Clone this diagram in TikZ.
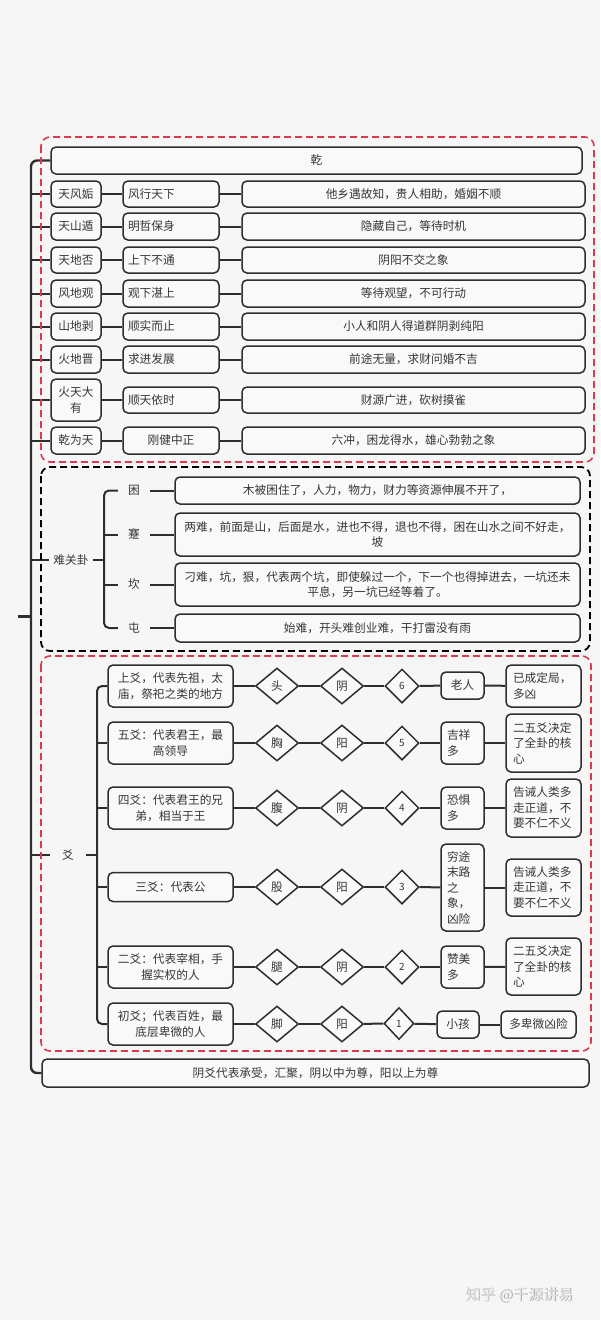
\documentclass[tikz,border=0pt]{standalone}
\usepackage{fontspec}
\setmainfont{Noto Sans CJK SC}
\usetikzlibrary{shapes.geometric}
\definecolor{bgc}{HTML}{F6F6F6}
\definecolor{boxf}{HTML}{F9F9F9}
\definecolor{linec}{HTML}{2E2E2E}
\definecolor{txtc}{HTML}{363636}
\definecolor{redd}{HTML}{D93A50}
\tikzset{
  box/.style={draw=linec, line width=1.5pt, rounded corners=5pt, fill=boxf, inner sep=0pt, align=center},
  lbox/.style 2 args={draw=linec, line width=1.5pt, rounded corners=5pt, fill=boxf, inner ysep=0pt, inner xsep=#1, text width=#2, align=left},
  conn/.style={draw=linec, line width=2pt},
  trunkline/.style={draw=linec, line width=2.4pt},
  dia/.style={diamond, draw=linec, line width=1.5pt, fill=boxf, inner sep=0pt, minimum width=43pt, minimum height=36pt},
  ndia/.style={dia, minimum width=34pt, minimum height=34pt, font=\fontsize{10}{12}\selectfont},
  lab/.style={inner ysep=2pt},
  reddash/.style={draw=redd, line width=1.6pt, dash pattern=on 7pt off 4pt, rounded corners=9pt},
  blackdash/.style={draw=black, line width=1.8pt, dash pattern=on 7pt off 4pt, rounded corners=9pt},
}
\newcommand\QRow[7]{%
  \node[box, minimum width=50pt, minimum height=#3pt] (a#1) at (76,#2) {#5};
  \node[lbox={5pt}{86pt}, minimum height=#4pt] (b#1) at (171,#2) {#6};
  \node[box, minimum width=343pt, minimum height=#4pt] (c#1) at (413.5,#2) {#7};
  \draw[conn] (a#1) -- (b#1);
  \draw[conn] (b#1) -- (c#1);
  \draw[conn] (a#1.west) -- (a#1.west -| trunk);
}
\newcommand\YRow[9]{%
  \node[box, minimum width=125pt, minimum height=#3pt] (L#1) at (170.5,#2) {#4};
  \node[dia] (P#1) at (277,#2) {#5};
  \node[dia] (Q#1) at (342,#2) {#6};
  \node[ndia] (R#1) at (402,#2) {#7};
  \draw[conn] (L#1) -- (P#1);
  \draw[conn] (P#1) -- (Q#1);
  \draw[conn] (Q#1) -- (R#1);
}
\begin{document}
\begin{tikzpicture}[x=1pt, y=-1pt, font=\fontsize{11.7}{15.5}\selectfont, text=txtc]
\fill[bgc] (0,0) rectangle (600,1320);
\useasboundingbox (0,0) rectangle (600,1320);

\coordinate (trunk) at (31,616.5);
\coordinate (root) at (18,616.5);

% top node and bottom note
\node[box, minimum width=531pt, minimum height=27pt] (qian) at (316.5,160.5) {乾};
\node[box, minimum width=547pt, minimum height=28pt] (note) at (315.5,1073) {阴爻代表承受，汇聚，阴以中为尊，阳以上为尊};

\draw[trunkline, rounded corners=6pt] (qian.west) -| (trunk) |- (note.west);
\draw[trunkline] (root) -- (trunk);

% section 1
\QRow{1}{194}{26}{26}{天风姤}{风行天下}{他乡遇故知，贵人相助，婚姻不顺}
\QRow{2}{226.5}{27}{27}{天山遁}{明哲保身}{隐藏自己，等待时机}
\QRow{3}{260}{26}{26}{天地否}{上下不通}{阴阳不交之象}
\QRow{4}{293.5}{27}{27}{风地观}{观下湛上}{等待观望，不可行动}
\QRow{5}{326.5}{27}{27}{山地剥}{顺实而止}{小人和阴人得道群阴剥纯阳}
\QRow{6}{359.5}{27}{27}{火地晋}{求进发展}{前途无量，求财问婚不吉}
\QRow{7}{400}{42}{26}{火天大\\有}{顺天依时}{财源广进，砍树摸雀}
\node[box, minimum width=50pt, minimum height=27pt] (a8) at (76,440.5) {乾为天};
\node[box, minimum width=96pt, minimum height=27pt] (b8) at (171,440.5) {刚健中正};
\node[box, minimum width=343pt, minimum height=27pt] (c8) at (413.5,440.5) {六冲，困龙得水，雄心勃勃之象};
\draw[conn] (a8) -- (b8);
\draw[conn] (b8) -- (c8);
\draw[conn] (a8.west) -- (a8.west -| trunk);

% section 2
\node[lab, inner xsep=4pt] (ng) at (71,560) {难关卦};
\node[box, minimum width=405pt, minimum height=27pt] (kb1) at (377.5,490.5) {木被困住了，人力，物力，财力等资源伸展不开了，};
\node[box, minimum width=405pt, minimum height=43pt] (kb2) at (377.5,534.5) {两难，前面是山，后面是水，进也不得，退也不得，困在山水之间不好走，\\坡};
\node[box, minimum width=405pt, minimum height=43pt] (kb3) at (377.5,584.5) {刁难，坑，狠，代表两个坑，即使躲过一个，下一个也得掉进去，一坑还未\\平息，另一坑已经等着了。};
\node[box, minimum width=405pt, minimum height=28pt] (kb4) at (377.5,628) {始难，开头难创业难，干打雷没有雨};
\node[lab, inner xsep=10pt] (k1) at (134,490.5) {困};
\node[lab, inner xsep=10pt] (k2) at (134,534.5) {蹇};
\node[lab, inner xsep=10pt] (k3) at (134,584.5) {坎};
\node[lab, inner xsep=10pt] (k4) at (134,628) {屯};
\coordinate (nb) at (104,560);
\draw[conn] (ng.west) -- (ng.west -| trunk);
\draw[conn] (ng.east) -- (ng.east -| nb);
\draw[conn, rounded corners=5pt] (k1.west) -| (nb) |- (k4.west);
\draw[conn] (k2.west) -- (k2.west -| nb);
\draw[conn] (k3.west) -- (k3.west -| nb);
\draw[conn] (k1) -- (kb1);
\draw[conn] (k2) -- (kb2);
\draw[conn] (k3) -- (kb3);
\draw[conn] (k4) -- (kb4);

% section 3
\node[lab, inner xsep=12pt] (yao) at (68,855) {爻};
\coordinate (yb) at (97,855);
\YRow{1}{686}{42}{上爻，代表先祖，太\\庙，祭祀之类的地方}{头}{阴}{6}{}{}
\YRow{2}{743}{42}{五爻：代表君王，最\\高领导}{胸}{阳}{5}{}{}
\YRow{3}{808}{42}{四爻：代表君王的兄\\弟，相当于王}{腹}{阴}{4}{}{}
\YRow{4}{887}{29}{三爻：代表公}{股}{阳}{3}{}{}
\YRow{5}{967}{42}{二爻：代表宰相，手\\握实权的人}{腿}{阴}{2}{}{}
\node[box, minimum width=125pt, minimum height=42pt] (L6) at (170.5,1024) {初爻；代表百姓，最\\底层卑微的人};
\node[dia] (P6) at (277,1024) {脚};
\node[dia] (Q6) at (342,1024) {阳};
\node[ndia, minimum width=30pt, minimum height=32pt] (R6) at (399,1023.5) {1};
\draw[conn] (L6) -- (P6);
\draw[conn] (P6) -- (Q6);
\draw[conn] (Q6) -- (R6);

\node[box, minimum width=43pt, minimum height=27pt] (S1) at (462.5,685.5) {老人};
\node[lbox={6pt}{31pt}, minimum height=42pt] (S2) at (462.5,743) {吉祥\\多};
\node[lbox={6pt}{31pt}, minimum height=42pt] (S3) at (462.5,808) {恐惧\\多};
\node[lbox={6pt}{31pt}, minimum height=87pt] (S4) at (462.5,887.5) {穷途\\末路\\之\\象，\\凶险};
\node[lbox={6pt}{31pt}, minimum height=42pt] (S5) at (462.5,967) {赞美\\多};
\node[box, minimum width=42pt, minimum height=27pt] (S6) at (458,1024.5) {小孩};

\node[lbox={7pt}{61pt}, minimum height=42pt] (T1) at (543.5,686) {已成定局，\\多凶};
\node[lbox={7pt}{61pt}, minimum height=58pt] (T2) at (543.5,743) {二五爻决定\\了全卦的核\\心};
\node[lbox={7pt}{61pt}, minimum height=58pt] (T3) at (543.5,808) {告诫人类多\\走正道，不\\要不仁不义};
\node[lbox={7pt}{61pt}, minimum height=57pt] (T4) at (543.5,887.5) {告诫人类多\\走正道，不\\要不仁不义};
\node[lbox={7pt}{61pt}, minimum height=57pt] (T5) at (543.5,966.5) {二五爻决定\\了全卦的核\\心};
\node[box, minimum width=75pt, minimum height=27pt] (T6) at (538.5,1024.5) {多卑微凶险};

\foreach \i in {1,...,6} {
  \draw[conn] (R\i) -- (S\i);
  \draw[conn] (S\i) -- (T\i);
}

\draw[conn] (yao.west) -- (yao.west -| trunk);
\draw[conn] (yao.east) -- (yao.east -| yb);
\draw[conn, rounded corners=5pt] (L1.west) -| (yb) |- (L6.west);
\foreach \i in {2,...,5} {
  \draw[conn] (L\i.west) -- (L\i.west -| yb);
}

% dashed groups
\draw[reddash] (41,137) rectangle (594,462);
\draw[blackdash] (41,467) rectangle (590,651);
\draw[reddash] (41,656) rectangle (591,1051);

% watermark
\node[text=gray!75, font=\fontsize{15}{18}\selectfont] (wmshadow) at (520,1295.8) {知乎 @千源讲易};
\node[text=gray!22, font=\fontsize{15}{18}\selectfont] (wm) at (519.3,1295) {知乎 @千源讲易};
\end{tikzpicture}
\end{document}
